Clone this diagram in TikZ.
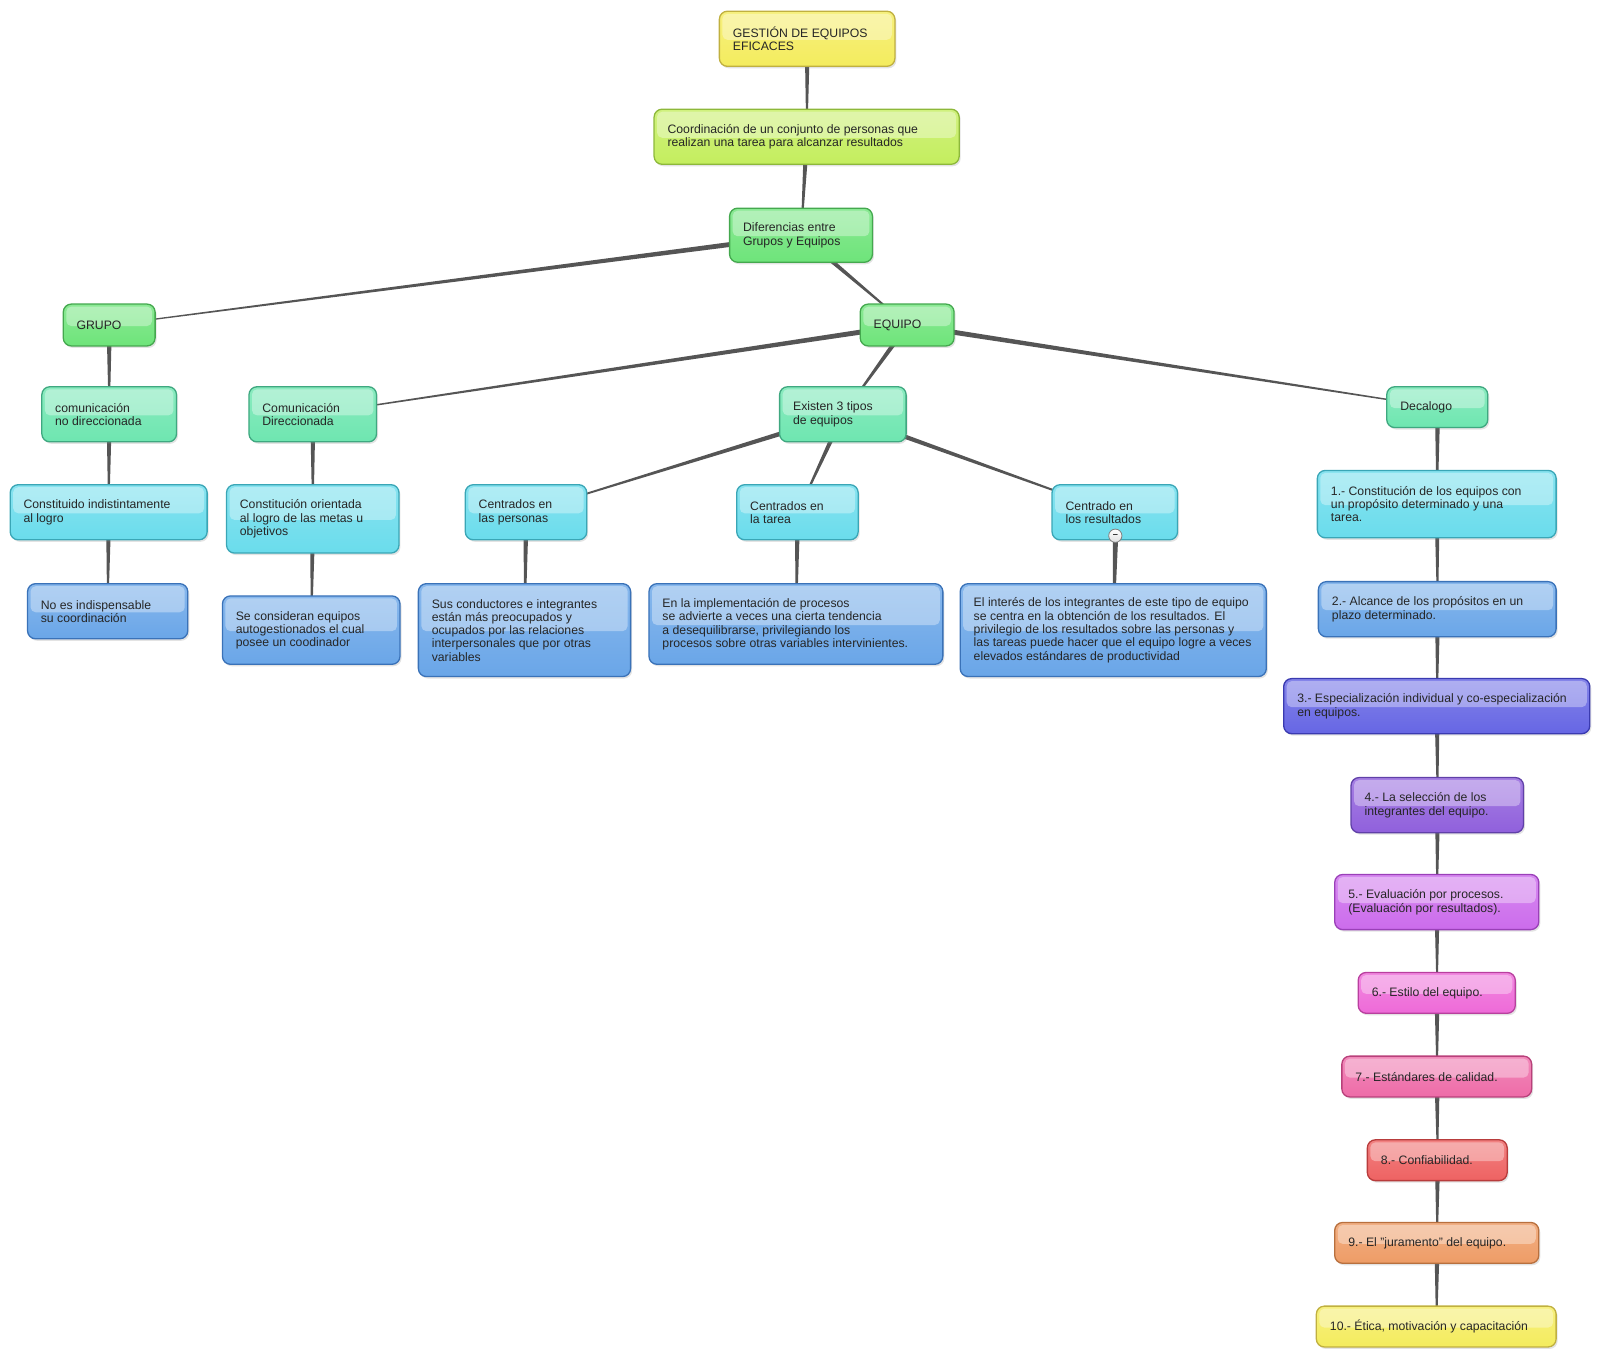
\documentclass[tikz,border=0pt]{standalone}
\usepackage{fontspec}
\setmainfont{Liberation Sans}
\usetikzlibrary{calc,shadows,backgrounds}
\definecolor{tinta}{HTML}{262626}
\definecolor{linea}{HTML}{555555}
\definecolor{colAmarillo}{HTML}{F4EC5E}\definecolor{bordeAmarillo}{HTML}{C0B040}
\definecolor{colLima}{HTML}{C4EE5E}\definecolor{bordeLima}{HTML}{8DB83A}
\definecolor{colVerde}{HTML}{6EE47A}\definecolor{bordeVerde}{HTML}{44A84E}
\definecolor{colAqua}{HTML}{6EE6B0}\definecolor{bordeAqua}{HTML}{3FA880}
\definecolor{colCian}{HTML}{6ADCEC}\definecolor{bordeCian}{HTML}{3AA6B6}
\definecolor{colAzul}{HTML}{6AA6E8}\definecolor{bordeAzul}{HTML}{3A72B8}
\definecolor{colIndigo}{HTML}{6666E4}\definecolor{bordeIndigo}{HTML}{3A3AB0}
\definecolor{colMorado}{HTML}{9060DC}\definecolor{bordeMorado}{HTML}{6040A8}
\definecolor{colVioleta}{HTML}{CC6CEC}\definecolor{bordeVioleta}{HTML}{9A40B8}
\definecolor{colFucsia}{HTML}{EE6AD8}\definecolor{bordeFucsia}{HTML}{B8409E}
\definecolor{colRosa}{HTML}{EE6CA8}\definecolor{bordeRosa}{HTML}{B8407A}
\definecolor{colRojo}{HTML}{EE6262}\definecolor{bordeRojo}{HTML}{B83C3C}
\definecolor{colNaranja}{HTML}{EE9C66}\definecolor{bordeNaranja}{HTML}{B8703E}
\newcommand\enlace[2]{\fill[linea] ($(#1.center)!2.6pt!90:(#2.center)$) -- ($(#2.center)!0.5pt!-90:(#1.center)$) -- ($(#2.center)!0.5pt!90:(#1.center)$) -- ($(#1.center)!2.6pt!-90:(#2.center)$) -- cycle;}
\tikzset{
  nodo/.style={rounded corners=8pt, line width=1.3pt,
    drop shadow={opacity=0.22, shadow xshift=1.5pt, shadow yshift=-2pt},
    path picture={\fill[white, opacity=0.35, rounded corners=5pt] ([xshift=3pt,yshift=-2.5pt]path picture bounding box.north west) rectangle ([xshift=-3pt,yshift=-1pt]path picture bounding box.east);}},
  tono/.style 2 args={nodo, draw=#2, top color=#1!80!white, bottom color=#1},
  dim/.style 2 args={minimum width=#1pt, minimum height=#2pt, inner sep=0pt},
  texto/.style={anchor=west, xshift=13.5pt, align=left, inner sep=0pt, text=tinta, font=\fontsize{12}{13}\selectfont},
  amarillo/.style={tono={colAmarillo}{bordeAmarillo}},
  lima/.style={tono={colLima}{bordeLima}},
  verde/.style={tono={colVerde}{bordeVerde}},
  aqua/.style={tono={colAqua}{bordeAqua}},
  cian/.style={tono={colCian}{bordeCian}},
  azul/.style={tono={colAzul}{bordeAzul}},
  indigo/.style={tono={colIndigo}{bordeIndigo}},
  morado/.style={tono={colMorado}{bordeMorado}},
  violeta/.style={tono={colVioleta}{bordeVioleta}},
  fucsia/.style={tono={colFucsia}{bordeFucsia}},
  rosa/.style={tono={colRosa}{bordeRosa}},
  rojo/.style={tono={colRojo}{bordeRojo}},
  naranja/.style={tono={colNaranja}{bordeNaranja}}
}
\begin{document}
\begin{tikzpicture}[x=1pt,y=-1pt,scale=1.0204,transform shape]
	\node[amarillo, dim={172}{54}, label={[texto]west:GESTIÓN DE EQUIPOS\\EFICACES}] (gestion) at (791,38) {};
	\node[lima, dim={299}{54}, label={[texto]west:Coordinación de un conjunto de personas que\\realizan una tarea para alcanzar resultados}] (coord) at (790.5,134) {};
	\node[verde, dim={140}{53}, label={[texto]west:Diferencias entre\\Grupos y Equipos}] (dif) at (785,230.5) {};
	\node[verde, dim={90}{41}, label={[texto]west:GRUPO}] (grupo) at (107,318.5) {};
	\node[verde, dim={92}{41}, label={[texto]west:EQUIPO}] (equipo) at (889,318.5) {};
	\node[aqua, dim={132}{54}, label={[texto]west:comunicación\\no direccionada}] (comnd) at (107,406) {};
	\node[aqua, dim={125}{54}, label={[texto]west:Comunicación\\Direccionada}] (comd) at (306.5,406) {};
	\node[aqua, dim={124}{54}, label={[texto]west:Existen 3 tipos\\de equipos}] (tipos) at (826,406) {};
	\node[aqua, dim={99}{40}, label={[texto]west:Decalogo}] (deca) at (1408.5,399) {};
	\node[cian, dim={193}{54}, label={[texto]west:Constituido indistintamente\\al logro}] (indist) at (106.5,502) {};
	\node[cian, dim={169}{67}, label={[texto]west:Constitución orientada\\al logro de las metas u\\objetivos}] (orient) at (306.5,508.5) {};
	\node[cian, dim={119}{54}, label={[texto]west:Centrados en\\las personas}] (pers) at (515.5,502) {};
	\node[cian, dim={119}{54}, label={[texto]west:Centrados en\\la tarea}] (tarea) at (781.5,502) {};
	\node[cian, dim={123}{54}, label={[texto]west:Centrado en\\los resultados}] (result) at (1092.5,502) {};
	\node[azul, dim={157}{54}, label={[texto]west:No es indispensable\\su coordinación}] (noes) at (105.5,599) {};
	\node[azul, dim={174}{67}, label={[texto]west:Se consideran equipos\\autogestionados el cual\\posee un coodinador}] (autog) at (305,617.5) {};
	\node[azul, dim={208}{91}, label={[texto]west:Sus conductores e integrantes\\están más preocupados y\\ocupados por las relaciones\\interpersonales que por otras\\variables}] (conduc) at (514,617.5) {};
	\node[azul, dim={288}{79}, label={[texto]west:En la implementación de procesos\\se advierte a veces una cierta tendencia\\a desequilibrarse, privilegiando los\\procesos sobre otras variables intervinientes.}] (implem) at (780,611.5) {};
	\node[azul, dim={300}{91}, label={[texto]west:El interés de los integrantes de este tipo de equipo\\se centra en la obtención de los resultados. El\\privilegio de los resultados sobre las personas y\\las tareas puede hacer que el equipo logre a veces\\elevados estándares de productividad}] (interes) at (1091,617.5) {};
	\node[cian, dim={234}{66}, label={[texto]west:1.- Constitución de los equipos con\\un propósito determinado y una\\tarea.}] (d1) at (1408,494) {};
	\node[azul, dim={233}{54}, label={[texto]west:2.- Alcance de los propósitos en un\\plazo determinado.}] (d2) at (1408.5,597) {};
	\node[indigo, dim={300}{54}, label={[texto]west:3.- Especialización individual y co-especialización\\en equipos.}] (d3) at (1408,692) {};
	\node[morado, dim={169}{54}, label={[texto]west:4.- La selección de los\\integrantes del equipo.}] (d4) at (1408.5,789) {};
	\node[violeta, dim={200}{54}, label={[texto]west:5.- Evaluación por procesos.\\(Evaluación por resultados).}] (d5) at (1408,884) {};
	\node[fucsia, dim={154}{40}, label={[texto]west:6.- Estilo del equipo.}] (d6) at (1408,973) {};
	\node[rosa, dim={186}{40}, label={[texto]west:7.- Estándares de calidad.}] (d7) at (1408,1055) {};
	\node[rojo, dim={137}{40}, label={[texto]west:8.- Confiabilidad.}] (d8) at (1408.5,1137) {};
	\node[naranja, dim={200}{40}, label={[texto]west:9.- El "juramento" del equipo.}] (d9) at (1408,1218) {};
	\node[amarillo, dim={235}{40}, label={[texto]west:10.- Ética, motivación y capacitación}] (d10) at (1407.5,1300) {};
	\node[circle, draw=gray, line width=0.8pt, top color=white, bottom color=gray!25, inner sep=0pt, minimum size=13pt, font=\fontsize{9}{9}\selectfont\bfseries, text=tinta] (menos) at (1093,525) {--};
	\begin{scope}[on background layer]
	\enlace{gestion}{coord}
	\enlace{coord}{dif}
	\enlace{dif}{grupo}
	\enlace{dif}{equipo}
	\enlace{grupo}{comnd}
	\enlace{comnd}{indist}
	\enlace{indist}{noes}
	\enlace{equipo}{comd}
	\enlace{equipo}{tipos}
	\enlace{equipo}{deca}
	\enlace{comd}{orient}
	\enlace{orient}{autog}
	\enlace{tipos}{pers}
	\enlace{tipos}{tarea}
	\enlace{tipos}{result}
	\enlace{pers}{conduc}
	\enlace{tarea}{implem}
	\enlace{menos}{interes}
	\enlace{deca}{d1}
	\enlace{d1}{d2}
	\enlace{d2}{d3}
	\enlace{d3}{d4}
	\enlace{d4}{d5}
	\enlace{d5}{d6}
	\enlace{d6}{d7}
	\enlace{d7}{d8}
	\enlace{d8}{d9}
	\enlace{d9}{d10}
	\end{scope}
	\pgfresetboundingbox
	\useasboundingbox (0,0) rectangle (1568,1329);
\end{tikzpicture}
\end{document}
